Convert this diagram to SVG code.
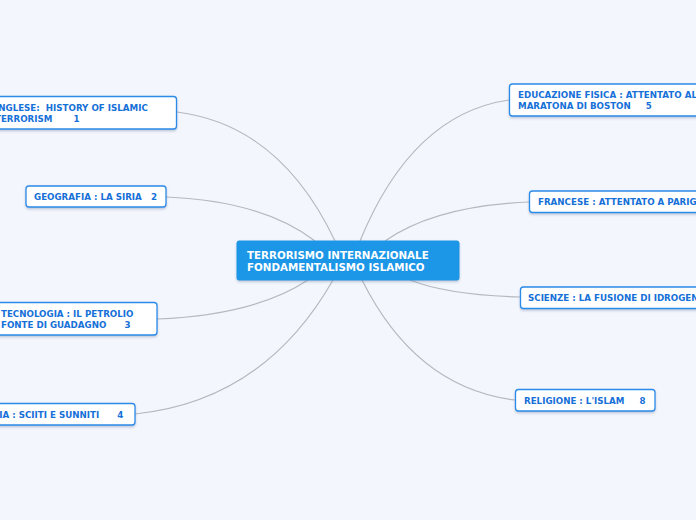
<svg xmlns="http://www.w3.org/2000/svg" width="696" height="520" viewBox="0 0 696 520">
<style>
.bg{fill:#f3f6fd}
.node rect{fill:#ffffff;stroke:#2a8be8;stroke-width:1.3}
.node text{font-family:"DejaVu Sans",Verdana,sans-serif;font-weight:bold;font-size:8.7px;fill:#1570d8;white-space:pre}
.center rect{fill:#1a96e6;stroke:#1a96e6}
.center text{font-family:"DejaVu Sans",Verdana,sans-serif;font-weight:bold;font-size:10.3px;fill:#ffffff;white-space:pre}
.conn path{fill:none;stroke:#b4b8c0;stroke-width:1.2}
</style>
<defs>
<filter id="sh" x="-10%" y="-20%" width="120%" height="160%">
<feDropShadow dx="0" dy="1.5" stdDeviation="1" flood-color="#5a6a90" flood-opacity="0.35"/>
</filter>
</defs>
<rect class="bg" x="0" y="0" width="696" height="520"/>
<g id="connectors" class="conn">
<path d="M177,112 Q280,125 335,241"/>
<path d="M166,197 Q263,201 315,241"/>
<path d="M157,319 Q255,315 308,280"/>
<path d="M135,414 Q264,401 333,280"/>
<path d="M509,100 Q412,114 360,241"/>
<path d="M529,202 Q435,206 385,241"/>
<path d="M520,297 Q448,295 410,280"/>
<path d="M515,400 Q416,388 362,280"/>
</g>
<g id="center" class="center">
<rect x="237" y="241" width="222" height="39" rx="2" filter="url(#sh)"/>
<text x="247" y="259">TERRORISMO INTERNAZIONALE</text>
<text x="247" y="271">FONDAMENTALISMO ISLAMICO</text>
</g>
<g id="n1" class="node">
<rect x="-8" y="96.5" width="184.5" height="32.5" rx="3" filter="url(#sh)"/>
<text x="-5" y="111">INGLESE:  HISTORY OF ISLAMIC</text>
<text x="-5" y="121.5">TERRORISM       1</text>
</g>
<g id="n2" class="node">
<rect x="26" y="186" width="140" height="21" rx="3" filter="url(#sh)"/>
<text x="34" y="200">GEOGRAFIA : LA SIRIA   2</text>
</g>
<g id="n3" class="node">
<rect x="-8" y="302.5" width="165" height="32.5" rx="3" filter="url(#sh)"/>
<text x="1" y="317">TECNOLOGIA : IL PETROLIO</text>
<text x="1" y="327.5">FONTE DI GUADAGNO      3</text>
</g>
<g id="n4" class="node">
<rect x="-60" y="403.5" width="195" height="21.5" rx="3" filter="url(#sh)"/>
<text x="-27" y="417.5">STORIA : SCIITI E SUNNITI      4</text>
</g>
<g id="n5" class="node">
<rect x="509.5" y="84" width="200" height="32" rx="3" filter="url(#sh)"/>
<text x="518" y="98">EDUCAZIONE FISICA : ATTENTATO ALLA</text>
<text x="518" y="108.5">MARATONA DI BOSTON     5</text>
</g>
<g id="n6" class="node">
<rect x="529.5" y="191" width="200" height="21.5" rx="3" filter="url(#sh)"/>
<text x="538" y="205">FRANCESE : ATTENTATO A PARIGI</text>
</g>
<g id="n7" class="node">
<rect x="520.5" y="287" width="200" height="21.5" rx="3" filter="url(#sh)"/>
<text x="528" y="301">SCIENZE : LA FUSIONE DI IDROGENO</text>
</g>
<g id="n8" class="node">
<rect x="515.5" y="389.5" width="139.5" height="21.5" rx="3" filter="url(#sh)"/>
<text x="524" y="403.5">RELIGIONE : L'ISLAM     8</text>
</g>
</svg>
